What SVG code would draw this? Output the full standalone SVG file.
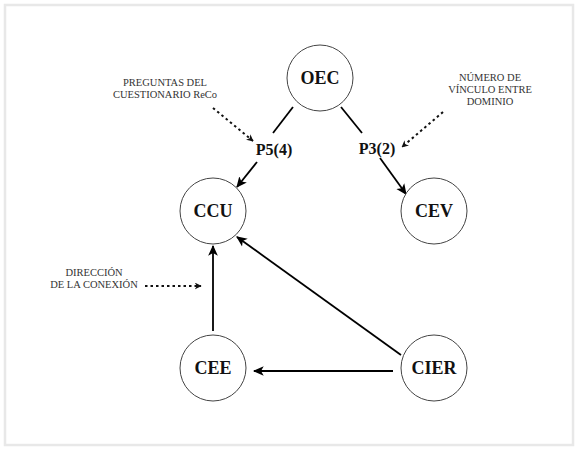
<svg xmlns="http://www.w3.org/2000/svg" width="578" height="449" viewBox="0 0 578 449">
<defs>
<marker id="ah" viewBox="0 0 10 10" refX="9" refY="5" markerWidth="6" markerHeight="6" orient="auto" markerUnits="strokeWidth">
<path d="M0,0.5 L10,5 L0,9.5 L2.5,5 z" fill="#000"/>
</marker>
<marker id="ahs" viewBox="0 0 10 10" refX="9" refY="5" markerWidth="3.5" markerHeight="3.5" orient="auto" markerUnits="strokeWidth">
<path d="M0,0 L10,5 L0,10 L3,5 z" fill="#111"/>
</marker>
</defs>
<style>
text{font-family:"Liberation Serif","Times New Roman","DejaVu Serif",serif}
.node circle{fill:#fff;stroke:#444;stroke-width:1}
.node text{font-weight:bold;font-size:18px;fill:#111;text-anchor:middle}
.edge{stroke:#000;stroke-width:1.8;fill:none}
.dash{stroke:#111;stroke-width:2;fill:none;stroke-dasharray:2.5 3}
.lbl{font-weight:bold;font-size:16px;fill:#111;text-anchor:middle}
.note{font-size:10.5px;fill:#333;text-anchor:middle}
</style>
<rect x="5" y="5" width="568" height="440" fill="#fff" stroke="#e8e8e8" stroke-width="2.5"/>
<g id="connectors">
<line class="edge" x1="293" y1="107" x2="273" y2="133"/>
<line class="edge" x1="257" y1="162" x2="237" y2="187" marker-end="url(#ah)"/>
<line class="edge" x1="341" y1="107" x2="362" y2="133"/>
<line class="edge" x1="380" y1="158" x2="406" y2="194" marker-end="url(#ah)"/>
<line class="edge" x1="213" y1="331" x2="213" y2="246" marker-end="url(#ah)"/>
<line class="edge" x1="401" y1="355" x2="237" y2="237" marker-end="url(#ah)"/>
<line class="edge" x1="393" y1="371" x2="254" y2="371" marker-end="url(#ah)"/>
<line class="dash" x1="213" y1="108" x2="253" y2="141" marker-end="url(#ahs)"/>
<line class="dash" x1="443" y1="112" x2="402" y2="147" marker-end="url(#ahs)"/>
<line class="dash" x1="145" y1="286" x2="201" y2="286" marker-end="url(#ahs)"/>
<text class="lbl" x="274" y="155">P5(4)</text>
<text class="lbl" x="377" y="154">P3(2)</text>
</g>
<g id="note-preguntas">
<text class="note" x="165" y="86">PREGUNTAS DEL</text>
<text class="note" x="165" y="98">CUESTIONARIO ReCo</text>
</g>
<g id="note-numero">
<text class="note" x="490" y="81">NÚMERO DE</text>
<text class="note" x="490" y="93">VÍNCULO ENTRE</text>
<text class="note" x="490" y="105">DOMINIO</text>
</g>
<g id="note-direccion">
<text class="note" x="94" y="276">DIRECCIÓN</text>
<text class="note" x="94" y="288">DE LA CONEXIÓN</text>
</g>
<g id="OEC" class="node"><circle cx="320" cy="78" r="33"/><text x="320" y="84">OEC</text></g>
<g id="CCU" class="node"><circle cx="213" cy="211" r="33"/><text x="213" y="217">CCU</text></g>
<g id="CEV" class="node"><circle cx="434" cy="211" r="33"/><text x="434" y="217">CEV</text></g>
<g id="CEE" class="node"><circle cx="213" cy="368" r="33"/><text x="213" y="374">CEE</text></g>
<g id="CIER" class="node"><circle cx="434" cy="368" r="33"/><text x="434" y="374">CIER</text></g>
</svg>
